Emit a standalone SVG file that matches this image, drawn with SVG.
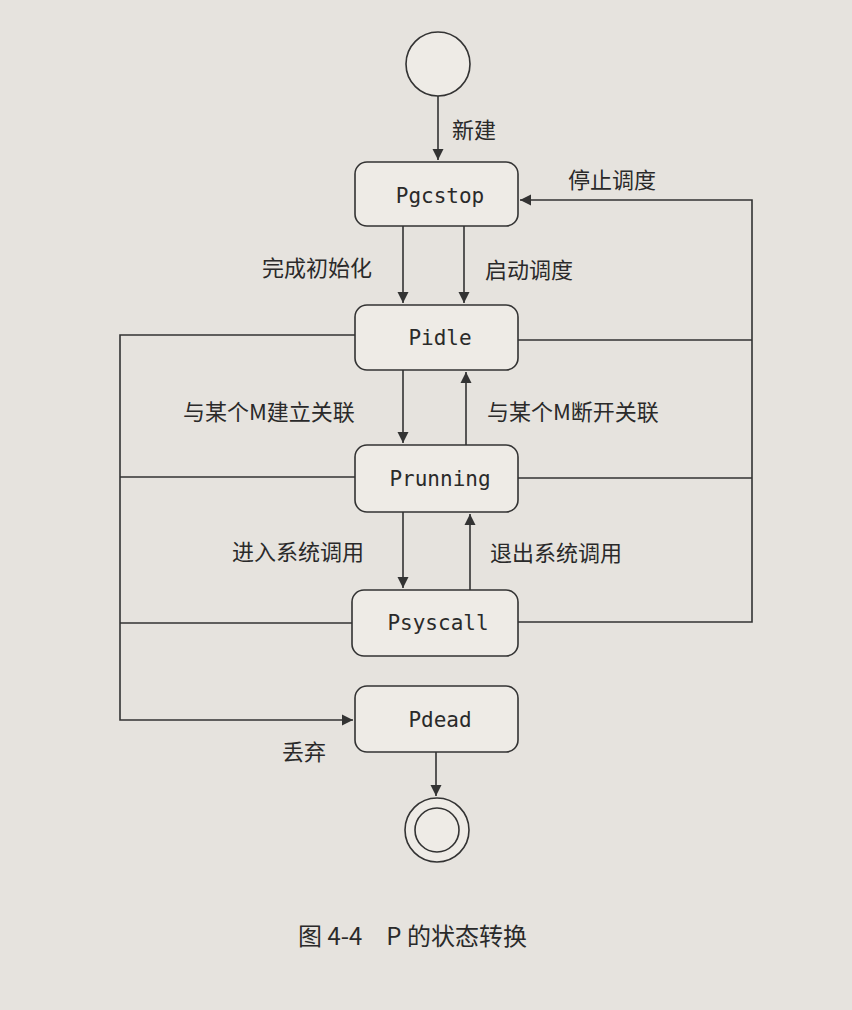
<svg xmlns="http://www.w3.org/2000/svg" width="852" height="1010" viewBox="0 0 852 1010">
<style>
.n{fill:#eeebe6;stroke:#333;stroke-width:1.6}
.t{font-family:"DejaVu Sans Mono","Liberation Mono",monospace;font-size:21px;fill:#2a2a2a;text-anchor:middle}
.l{font-family:"Noto Sans CJK SC",sans-serif;font-size:22px;fill:#2a2a2a}
.c{fill:none;stroke:#333;stroke-width:1.6}
</style>
<defs><marker id="a" viewBox="0 0 10 10" refX="10" refY="5" markerWidth="7" markerHeight="7" orient="auto"><path d="M0,0L10,5L0,10z" fill="#333"/></marker></defs>
<rect width="852" height="1010" fill="#e6e3de"/>
<g id="start"><circle cx="438" cy="64" r="32" class="n"/></g>
<g id="Pgcstop"><rect x="355" y="162" width="163" height="64" rx="12" class="n"/><text x="440" y="203" class="t">Pgcstop</text></g>
<g id="Pidle"><rect x="355" y="305" width="163" height="65" rx="12" class="n"/><text x="440" y="345" class="t">Pidle</text></g>
<g id="Prunning"><rect x="355" y="445" width="163" height="67" rx="12" class="n"/><text x="440" y="486" class="t">Prunning</text></g>
<g id="Psyscall"><rect x="352" y="590" width="166" height="66" rx="12" class="n"/><text x="438" y="630" class="t">Psyscall</text></g>
<g id="Pdead"><rect x="355" y="686" width="163" height="66" rx="12" class="n"/><text x="440" y="727" class="t">Pdead</text></g>
<g id="end"><circle cx="437" cy="830" r="32" class="n"/><circle cx="437" cy="830" r="22" class="n"/></g>
<g id="connectors">
<path d="M438,96V160" class="c" marker-end="url(#a)"/>
<path d="M403,226V303" class="c" marker-end="url(#a)"/>
<path d="M464,226V303" class="c" marker-end="url(#a)"/>
<path d="M403,370V443" class="c" marker-end="url(#a)"/>
<path d="M466,445V372" class="c" marker-end="url(#a)"/>
<path d="M403,512V588" class="c" marker-end="url(#a)"/>
<path d="M470,590V514" class="c" marker-end="url(#a)"/>
<path d="M355,335H120V720H353" class="c" marker-end="url(#a)"/>
<path d="M355,477H120M352,623H120" class="c"/>
<path d="M518,622H752V200H520" class="c" marker-end="url(#a)"/>
<path d="M518,478H752M518,340H752" class="c"/>
<path d="M436,752V796" class="c" marker-end="url(#a)"/>
</g>
<g id="labels">
<text x="452" y="138" class="l">新建</text>
<text x="568" y="188" class="l">停止调度</text>
<text x="262" y="276" class="l">完成初始化</text>
<text x="485" y="278" class="l">启动调度</text>
<text x="183" y="420" class="l">与某个M建立关联</text>
<text x="487" y="420" class="l">与某个M断开关联</text>
<text x="232" y="560" class="l">进入系统调用</text>
<text x="490" y="561" class="l">退出系统调用</text>
<text x="282" y="760" class="l">丢弃</text>
<text x="298" y="945" class="l" style="font-family:'Noto Sans CJK SC',serif;font-size:24px">图 4-4　P 的状态转换</text>
</g>
</svg>
